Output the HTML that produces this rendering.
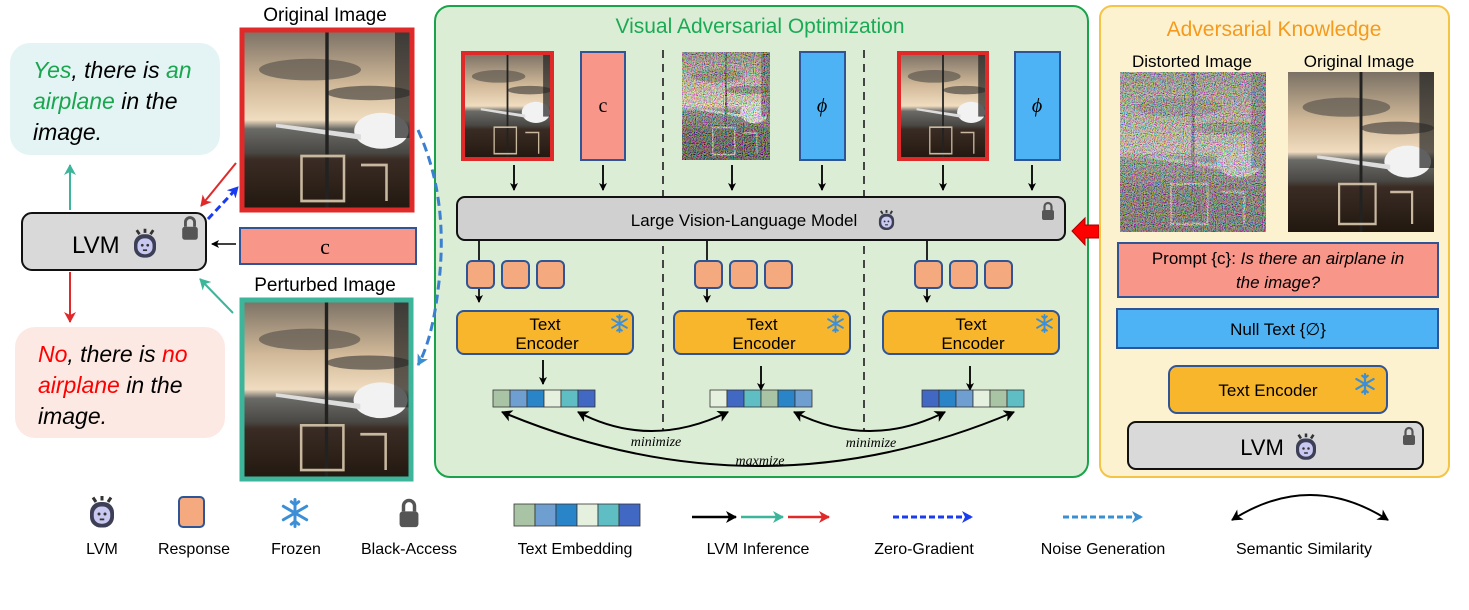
<!DOCTYPE html>
<html><head><meta charset="utf-8"><style>
html,body{margin:0;padding:0;background:#fff;}
svg{display:block;font-family:"Liberation Sans",sans-serif;}
</style></head><body>
<svg width="1469" height="610" viewBox="0 0 1469 610" xmlns="http://www.w3.org/2000/svg">
<defs>
<linearGradient id="sky" x1="0" y1="0" x2="0" y2="1">
<stop offset="0" stop-color="#7a7064"/><stop offset="0.3" stop-color="#d0b898"/><stop offset="0.5" stop-color="#f0dcc0"/><stop offset="0.55" stop-color="#6a6a66"/><stop offset="0.68" stop-color="#4a4844"/><stop offset="0.72" stop-color="#3a2c24"/><stop offset="1" stop-color="#22180f"/>
</linearGradient>
<symbol id="photo" viewBox="0 0 100 100" preserveAspectRatio="none">
<rect width="100" height="100" fill="url(#sky)"/>
<ellipse cx="40" cy="22" rx="30" ry="6" fill="#5e5850" opacity="0.7"/>
<ellipse cx="75" cy="35" rx="25" ry="4" fill="#4e4a45" opacity="0.7"/>
<ellipse cx="82" cy="56" rx="16" ry="10" fill="#f2f2f2"/>
<path d="M20 52 L70 58 L70 61 L20 54Z" fill="#ddd"/>
<rect x="49" y="0" width="2" height="100" fill="#222"/>
<rect x="90" y="0" width="10" height="60" fill="#222" opacity="0.7"/>
<path d="M35 70 h25 v25 h-25z" fill="none" stroke="#c8b8a0" stroke-width="1.5"/>
<path d="M70 75 h15 v20" fill="none" stroke="#c8b8a0" stroke-width="1.5"/>
</symbol>
<filter id="noise" x="0" y="0" width="100%" height="100%">
<feTurbulence type="fractalNoise" baseFrequency="0.9" numOctaves="1" seed="3"/>
<feColorMatrix type="matrix" values="4 0 0 0 -1.5  0 4 0 0 -1.5  0 0 4 0 -1.5  0 0 0 0 0.55"/>
</filter>
<symbol id="robot" viewBox="0 0 20 24">
<path d="M4 3 L6 6 M16 3 L14 6 M10 2 v3" stroke="#333" stroke-width="2"/>
<rect x="2" y="6" width="16" height="17" rx="7" fill="#3c3f55"/>
<rect x="4.5" y="9" width="11" height="11.5" rx="5" fill="#c9c8f0"/>
<circle cx="8" cy="14" r="1" fill="#333"/><circle cx="12" cy="14" r="1" fill="#333"/><rect x="8.5" y="17" width="3" height="1.2" fill="#333"/>
</symbol>
<symbol id="lock" viewBox="0 0 14 20">
<path d="M3.5 9 V5.5 a3.5 3.5 0 0 1 7 0 V9" fill="none" stroke="#555" stroke-width="2.2"/>
<rect x="1" y="9" width="12" height="10" rx="2" fill="#555"/>
</symbol>
<symbol id="snow" viewBox="0 0 20 20">
<g stroke="#3c8fd6" stroke-width="2" fill="none" stroke-linecap="round">
<path d="M10 1v18M2.2 5.5l15.6 9M2.2 14.5l15.6-9"/>
<path d="M7.5 2.5l2.5 2 2.5-2M7.5 17.5l2.5-2 2.5 2"/>
</g>
</symbol>
<marker id="ab" markerWidth="8" markerHeight="8" refX="7" refY="4" orient="auto" markerUnits="userSpaceOnUse"><path d="M0 0L8 4L0 8L2 4z" fill="#000"/></marker>
<marker id="at" markerWidth="12" markerHeight="12" refX="10" refY="6" orient="auto" markerUnits="userSpaceOnUse"><path d="M0 0L11 6L0 12L3 6z" fill="#3cb59a"/></marker>
<marker id="ar" markerWidth="12" markerHeight="12" refX="10" refY="6" orient="auto" markerUnits="userSpaceOnUse"><path d="M0 0L11 6L0 12L3 6z" fill="#e02a2a"/></marker>
<marker id="abl" markerWidth="12" markerHeight="12" refX="10" refY="6" orient="auto" markerUnits="userSpaceOnUse"><path d="M0 0L11 6L0 12L3 6z" fill="#1a3cf0"/></marker>
<marker id="al" markerWidth="12" markerHeight="12" refX="10" refY="6" orient="auto" markerUnits="userSpaceOnUse"><path d="M0 0L11 6L0 12L3 6z" fill="#3a8fd0"/></marker>
<marker id="ak" markerWidth="12" markerHeight="12" refX="10" refY="6" orient="auto" markerUnits="userSpaceOnUse"><path d="M0 0L11 6L0 12L3 6z" fill="#000"/></marker>
<marker id="aks" markerWidth="12" markerHeight="12" refX="2" refY="6" orient="auto" markerUnits="userSpaceOnUse"><path d="M12 0L1 6L12 12L9 6z" fill="#000"/></marker>
</defs>

<!-- Left side -->
<rect x="10" y="43" width="210" height="112" rx="20" fill="#e4f4f4"/>
<g font-style="italic" font-size="23">
<text x="33" y="78"><tspan fill="#1aa64e">Yes</tspan>, there is <tspan fill="#1aa64e">an</tspan></text>
<text x="33" y="109"><tspan fill="#1aa64e">airplane</tspan>  in  the</text>
<text x="33" y="140">image.</text>
</g>
<rect x="15" y="327" width="210" height="111" rx="20" fill="#fde9e3"/>
<g font-style="italic" font-size="23">
<text x="38" y="362"><tspan fill="#f00">No</tspan>, there is <tspan fill="#f00">no</tspan></text>
<text x="38" y="393"><tspan fill="#f00">airplane</tspan>  in  the</text>
<text x="38" y="424">image.</text>
</g>
<rect x="22" y="213" width="184" height="57" rx="10" fill="#d9d9d9" stroke="#111" stroke-width="2"/>
<text x="72" y="253" font-size="24">LVM</text>
<use href="#robot" x="130" y="226" width="30" height="33"/>
<use href="#lock" x="180" y="215" width="20" height="26"/>
<line x1="70" y1="210" x2="70" y2="165" stroke="#3cb59a" stroke-width="2" marker-end="url(#at)"/>
<line x1="70" y1="272" x2="70" y2="322" stroke="#e02a2a" stroke-width="2" marker-end="url(#ar)"/>
<line x1="236" y1="163" x2="201" y2="206" stroke="#e02a2a" stroke-width="2" marker-end="url(#ar)"/>
<line x1="208" y1="219" x2="238" y2="187" stroke="#1a3cf0" stroke-width="3" stroke-dasharray="7,4" marker-end="url(#abl)"/>
<line x1="236" y1="244" x2="212" y2="244" stroke="#000" stroke-width="1.5" marker-end="url(#ab)"/>
<line x1="233" y1="313" x2="200" y2="279" stroke="#3cb59a" stroke-width="2" marker-end="url(#at)"/>

<text x="325" y="21" font-size="19" text-anchor="middle">Original Image</text>
<use href="#photo" x="242" y="30" width="170" height="180"/>
<rect x="242" y="30" width="170" height="180" fill="none" stroke="#e02a2a" stroke-width="5"/>
<rect x="240" y="228" width="176" height="36" fill="#f8968a" stroke="#2f5597" stroke-width="2"/>
<text x="325" y="254" font-size="22" font-family="'Liberation Serif',serif" text-anchor="middle">c</text>
<text x="325" y="291" font-size="19" text-anchor="middle">Perturbed Image</text>
<use href="#photo" x="242" y="300" width="169" height="179"/>
<rect x="242" y="300" width="169" height="179" fill="none" stroke="#3cb59a" stroke-width="5"/>

<!-- Green panel -->
<rect x="435" y="6" width="653" height="471" rx="15" fill="#dcedd5" stroke="#1aa34a" stroke-width="2"/>
<path d="M418 130 Q450 200 438 290 Q432 340 418 365" fill="none" stroke="#3a7fd0" stroke-width="3" stroke-dasharray="9,5" marker-end="url(#al)"/>
<text x="760" y="33" font-size="21" fill="#1aaa55" text-anchor="middle">Visual Adversarial Optimization</text>
<line x1="663" y1="50" x2="663" y2="430" stroke="#444" stroke-width="2" stroke-dasharray="8,6"/>
<line x1="864" y1="50" x2="864" y2="430" stroke="#444" stroke-width="2" stroke-dasharray="8,6"/>
<use href="#photo" x="463" y="53" width="89" height="106"/>
<rect x="463" y="53" width="89" height="106" fill="none" stroke="#e02a2a" stroke-width="4"/>
<rect x="581" y="52" width="44" height="108" fill="#f8968a" stroke="#2f5597" stroke-width="2"/>
<text x="603" y="112" font-size="20" font-family="'Liberation Serif',serif" text-anchor="middle">c</text>
<use href="#photo" x="682" y="52" width="88" height="108"/>
<rect x="682" y="52" width="88" height="108" filter="url(#noise)"/>
<rect x="800" y="52" width="45" height="108" fill="#4db3f5" stroke="#2f5597" stroke-width="2"/>
<text x="822" y="112" font-size="20" font-style="italic" font-family="'Liberation Serif',serif" text-anchor="middle">ϕ</text>
<use href="#photo" x="899" y="53" width="88" height="106"/>
<rect x="899" y="53" width="88" height="106" fill="none" stroke="#e02a2a" stroke-width="4"/>
<rect x="1015" y="52" width="45" height="108" fill="#4db3f5" stroke="#2f5597" stroke-width="2"/>
<text x="1037" y="112" font-size="20" font-style="italic" font-family="'Liberation Serif',serif" text-anchor="middle">ϕ</text>
<g stroke="#000" stroke-width="1.8">
<line x1="514" y1="165" x2="514" y2="190" marker-end="url(#ab)"/>
<line x1="603" y1="165" x2="603" y2="190" marker-end="url(#ab)"/>
<line x1="732" y1="165" x2="732" y2="190" marker-end="url(#ab)"/>
<line x1="822" y1="165" x2="822" y2="190" marker-end="url(#ab)"/>
<line x1="943" y1="165" x2="943" y2="190" marker-end="url(#ab)"/>
<line x1="1032" y1="165" x2="1032" y2="190" marker-end="url(#ab)"/>
</g>
<rect x="457" y="197" width="608" height="43" rx="8" fill="#d0d0d0" stroke="#111" stroke-width="2"/>
<text x="744" y="226" font-size="17" text-anchor="middle">Large Vision-Language Model</text>
<use href="#robot" x="877" y="207" width="19" height="25"/>
<use href="#lock" x="1040" y="201" width="16" height="20"/>
<g stroke="#111" stroke-width="1.8">
<line x1="479" y1="240" x2="479" y2="302" marker-end="url(#ab)"/>
<line x1="707" y1="240" x2="707" y2="302" marker-end="url(#ab)"/>
<line x1="927" y1="240" x2="927" y2="302" marker-end="url(#ab)"/>
</g>
<g fill="#f4a97e" stroke="#2f5597" stroke-width="2">
<rect x="467" y="261" width="27" height="27" rx="5"/><rect x="502" y="261" width="27" height="27" rx="5"/><rect x="537" y="261" width="27" height="27" rx="5"/>
<rect x="695" y="261" width="27" height="27" rx="5"/><rect x="730" y="261" width="27" height="27" rx="5"/><rect x="765" y="261" width="27" height="27" rx="5"/>
<rect x="915" y="261" width="27" height="27" rx="5"/><rect x="950" y="261" width="27" height="27" rx="5"/><rect x="985" y="261" width="27" height="27" rx="5"/>
</g>
<g fill="#f8b62c" stroke="#2f5597" stroke-width="2">
<rect x="457" y="311" width="176" height="43" rx="7"/>
<rect x="674" y="311" width="176" height="43" rx="7"/>
<rect x="883" y="311" width="176" height="43" rx="7"/>
</g>
<g font-size="17" text-anchor="middle">
<text x="545" y="330">Text</text><text x="547" y="349">Encoder</text>
<text x="762" y="330">Text</text><text x="764" y="349">Encoder</text>
<text x="971" y="330">Text</text><text x="973" y="349">Encoder</text>
</g>
<use href="#snow" x="610" y="314" width="19" height="19"/>
<use href="#snow" x="826" y="314" width="19" height="19"/>
<use href="#snow" x="1035" y="314" width="19" height="19"/>
<g stroke="#000" stroke-width="1.8">
<line x1="543" y1="360" x2="543" y2="384" marker-end="url(#ab)"/>
<line x1="761" y1="366" x2="761" y2="390" marker-end="url(#ab)"/>
<line x1="970" y1="366" x2="970" y2="390" marker-end="url(#ab)"/>
</g>
<g stroke="#333" stroke-width="0.8">
<rect x="493" y="390" width="17" height="17" fill="#a9c4a4"/><rect x="510" y="390" width="17" height="17" fill="#6f9fd0"/><rect x="527" y="390" width="17" height="17" fill="#2a84c8"/><rect x="544" y="390" width="17" height="17" fill="#e5f0df"/><rect x="561" y="390" width="17" height="17" fill="#5fbec4"/><rect x="578" y="390" width="17" height="17" fill="#4169c4"/>
<rect x="710" y="390" width="17" height="17" fill="#e5f0df"/><rect x="727" y="390" width="17" height="17" fill="#4169c4"/><rect x="744" y="390" width="17" height="17" fill="#5fbec4"/><rect x="761" y="390" width="17" height="17" fill="#a9c4a4"/><rect x="778" y="390" width="17" height="17" fill="#2a84c8"/><rect x="795" y="390" width="17" height="17" fill="#6f9fd0"/>
<rect x="922" y="390" width="17" height="17" fill="#4169c4"/><rect x="939" y="390" width="17" height="17" fill="#2a84c8"/><rect x="956" y="390" width="17" height="17" fill="#6f9fd0"/><rect x="973" y="390" width="17" height="17" fill="#e5f0df"/><rect x="990" y="390" width="17" height="17" fill="#a9c4a4"/><rect x="1007" y="390" width="17" height="17" fill="#5fbec4"/>
</g>
<g fill="none" stroke="#000" stroke-width="2">
<path d="M578 412 Q650 450 728 412" marker-start="url(#aks)" marker-end="url(#ak)"/>
<path d="M794 412 Q870 450 945 412" marker-start="url(#aks)" marker-end="url(#ak)"/>
<path d="M502 412 Q760 520 1014 412" marker-start="url(#aks)" marker-end="url(#ak)"/>
</g>
<g font-family="'Liberation Serif',serif" font-style="italic" font-size="14" text-anchor="middle">
<text x="656" y="446">minimize</text><text x="871" y="447">minimize</text><text x="760" y="465">maxmize</text>
</g>

<!-- Red arrow -->
<path d="M1072 231 L1085 218 L1085 225 L1099 225 L1099 238 L1085 238 L1085 245 Z" fill="#f00" stroke="#a00" stroke-width="1"/>

<!-- Right panel -->
<rect x="1100" y="6" width="349" height="471" rx="12" fill="#fdf2d0" stroke="#f5c445" stroke-width="2"/>
<text x="1274" y="36" font-size="21" fill="#f59a1c" text-anchor="middle">Adversarial Knowledge</text>
<text x="1192" y="67" font-size="17" text-anchor="middle">Distorted Image</text>
<text x="1359" y="67" font-size="17" text-anchor="middle">Original Image</text>
<use href="#photo" x="1120" y="72" width="146" height="160"/>
<rect x="1120" y="72" width="146" height="160" fill="#999" opacity="0.4"/>
<rect x="1120" y="72" width="146" height="160" filter="url(#noise)"/>
<use href="#photo" x="1288" y="72" width="146" height="160"/>
<rect x="1118" y="243" width="320" height="54" fill="#f8968a" stroke="#2f5597" stroke-width="2"/>
<text x="1278" y="264" font-size="17" text-anchor="middle">Prompt {c}: <tspan font-style="italic">Is there an airplane in</tspan></text>
<text x="1278" y="288" font-size="17" font-style="italic" text-anchor="middle">the image?</text>
<rect x="1117" y="309" width="321" height="39" fill="#4db3f5" stroke="#2f5597" stroke-width="2"/>
<text x="1278" y="335" font-size="17" text-anchor="middle">Null Text {∅}</text>
<rect x="1169" y="366" width="218" height="47" rx="8" fill="#f8b62c" stroke="#2f5597" stroke-width="2"/>
<text x="1268" y="396" font-size="17" text-anchor="middle">Text Encoder</text>
<use href="#snow" x="1354" y="373" width="22" height="22"/>
<rect x="1128" y="422" width="295" height="47" rx="8" fill="#d9d9d9" stroke="#111" stroke-width="2"/>
<text x="1262" y="455" font-size="22" text-anchor="middle">LVM</text>
<use href="#robot" x="1293" y="431" width="26" height="30"/>
<use href="#lock" x="1401" y="426" width="16" height="20"/>

<!-- Legend -->
<use href="#robot" x="87" y="490" width="30" height="42"/>
<text x="102" y="554" font-size="16" text-anchor="middle">LVM</text>
<rect x="179" y="497" width="25" height="30" rx="4" fill="#f4a97e" stroke="#2f5597" stroke-width="2"/>
<text x="194" y="554" font-size="16" text-anchor="middle">Response</text>
<use href="#snow" x="280" y="493" width="30" height="40"/>
<text x="296" y="554" font-size="16" text-anchor="middle">Frozen</text>
<use href="#lock" x="398" y="495" width="22" height="36"/>
<text x="409" y="554" font-size="16" text-anchor="middle">Black-Access</text>
<g stroke="#333" stroke-width="0.8">
<rect x="514" y="504" width="21" height="22" fill="#a9c4a4"/><rect x="535" y="504" width="21" height="22" fill="#6f9fd0"/><rect x="556" y="504" width="21" height="22" fill="#2a84c8"/><rect x="577" y="504" width="21" height="22" fill="#e5f0df"/><rect x="598" y="504" width="21" height="22" fill="#5fbec4"/><rect x="619" y="504" width="21" height="22" fill="#4169c4"/>
</g>
<text x="575" y="554" font-size="16" text-anchor="middle">Text Embedding</text>
<line x1="692" y1="517" x2="736" y2="517" stroke="#000" stroke-width="2.5" marker-end="url(#ak)"/>
<line x1="741" y1="517" x2="783" y2="517" stroke="#3cb59a" stroke-width="2.5" marker-end="url(#at)"/>
<line x1="788" y1="517" x2="829" y2="517" stroke="#e02a2a" stroke-width="2.5" marker-end="url(#ar)"/>
<text x="758" y="554" font-size="16" text-anchor="middle">LVM Inference</text>
<line x1="893" y1="517" x2="972" y2="517" stroke="#1a3cf0" stroke-width="3" stroke-dasharray="6,3" marker-end="url(#abl)"/>
<text x="924" y="554" font-size="16" text-anchor="middle">Zero-Gradient</text>
<line x1="1063" y1="517" x2="1142" y2="517" stroke="#3a8fd0" stroke-width="3" stroke-dasharray="6,3" marker-end="url(#al)"/>
<text x="1103" y="554" font-size="16" text-anchor="middle">Noise Generation</text>
<path d="M1232 520 Q1310 470 1388 520" fill="none" stroke="#000" stroke-width="2" marker-start="url(#aks)" marker-end="url(#ak)"/>
<text x="1304" y="554" font-size="16" text-anchor="middle">Semantic Similarity</text>
</svg>
</body></html>
